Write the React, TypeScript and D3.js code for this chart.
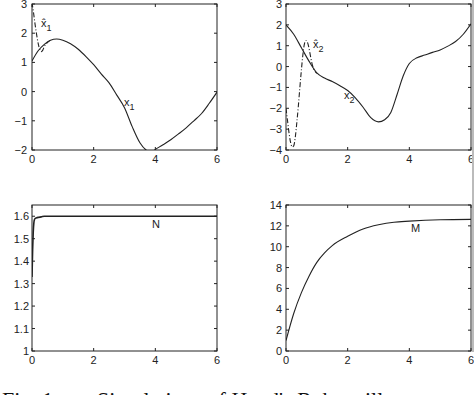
import React from 'react';
import * as d3 from 'd3';

// top-left: x1 and its estimate
const t1 = [0, 0.2, 0.4, 0.6, 0.8, 1.0, 1.25, 1.5, 1.75, 2.0, 2.25, 2.5, 2.75, 3.0, 3.25, 3.5, 3.7, 3.85, 4.0, 4.25, 4.5, 4.75, 5.0, 5.25, 5.5, 5.75, 6.0];
const x1 = [1.05, 1.4, 1.62, 1.76, 1.8, 1.76, 1.64, 1.45, 1.2, 0.92, 0.6, 0.3, -0.12, -0.55, -1.2, -1.75, -2.0, -2.08, -1.98, -1.82, -1.65, -1.45, -1.24, -1.0, -0.75, -0.4, -0.02];
const tHat1 = [0, 0.05, 0.1, 0.15, 0.2, 0.25, 0.3, 0.35, 0.4, 0.5, 0.6];
const xHat1 = [3.05, 2.7, 2.3, 1.95, 1.65, 1.45, 1.37, 1.42, 1.55, 1.68, 1.76];

// top-right: x2 and its estimate
const t2 = [0, 0.25, 0.5, 0.75, 1.0, 1.25, 1.5, 1.75, 2.0, 2.25, 2.5, 2.75, 3.0, 3.2, 3.4, 3.6, 3.8, 4.0, 4.25, 4.5, 4.75, 5.0, 5.25, 5.5, 5.75, 6.0];
const x2 = [2.0, 1.55, 0.9, 0.25, -0.3, -0.55, -0.72, -0.92, -1.15, -1.5, -1.95, -2.45, -2.65, -2.55, -2.2, -1.35, -0.45, 0.15, 0.42, 0.55, 0.68, 0.8, 0.98, 1.2, 1.55, 2.05];
const tHat2 = [0, 0.05, 0.1, 0.15, 0.2, 0.25, 0.3, 0.35, 0.4, 0.45, 0.5, 0.55, 0.6, 0.65, 0.7, 0.75, 0.8, 0.85, 0.9, 0.95, 1.0];
const xHat2 = [-2.0, -2.6, -3.2, -3.65, -3.85, -3.8, -3.4, -2.7, -1.9, -1.0, -0.15, 0.6, 1.1, 1.25, 1.15, 0.85, 0.45, 0.1, -0.12, -0.25, -0.33];

// bottom-left: N
const tN = [0, 0.02, 0.04, 0.06, 0.08, 0.1, 0.15, 0.2, 0.3, 0.4, 0.6, 1, 2, 3, 4, 5, 6];
const nVals = [1.33, 1.45, 1.53, 1.57, 1.585, 1.59, 1.593, 1.595, 1.597, 1.6, 1.6, 1.6, 1.6, 1.6, 1.6, 1.6, 1.6];

// bottom-right: M
const tM = [0, 0.25, 0.5, 0.75, 1, 1.25, 1.5, 2, 2.5, 3, 3.5, 4, 5, 6];
const mVals = [1.0, 3.6, 5.6, 7.2, 8.5, 9.4, 10.1, 11.0, 11.7, 12.1, 12.35, 12.45, 12.58, 12.62];

const xTicks = [0, 2, 4, 6];
const yTicks1 = [-2, -1, 0, 1, 2, 3];
const yTicks2 = [-4, -3, -2, -1, 0, 1, 2, 3];
const yTicksN = [1, 1.1, 1.2, 1.3, 1.4, 1.5, 1.6];
const yTicksM = [0, 2, 4, 6, 8, 10, 12, 14];

const INK = '#222';
const FONT = 'Liberation Sans, Arial, sans-serif';

type Series = { t: number[]; v: number[]; dash?: string; width?: number };
type Label = { x: number; y: number; text: string; hat?: boolean; sub?: string };

interface PanelProps {
  id: string;
  left: number; right: number; top: number; bottom: number;
  yDomain: [number, number];
  yTicks: number[];
  yFmt: (d: number) => string;
  yGap: number;
  series: Series[];
  labels: Label[];
}

const Panel: React.FC<PanelProps> = ({ id, left, right, top, bottom, yDomain, yTicks, yFmt, yGap, series, labels }) => {
  const x = d3.scaleLinear().domain([0, 6]).range([left, right]);
  const y = d3.scaleLinear().domain(yDomain).range([bottom, top]);
  const line = d3.line<[number, number]>()
    .x(d => x(d[0]))
    .y(d => y(d[1]))
    .curve(d3.curveMonotoneX);
  const tl = 3;
  return (
    <g>
      <clipPath id={id}>
        <rect x={left} y={top} width={right - left} height={bottom - top} />
      </clipPath>
      <g clipPath={`url(#${id})`}>
        {series.map((s, i) => (
          <path key={i} d={line(s.t.map((t, k) => [t, s.v[k]] as [number, number])) || ''}
            fill="none" stroke={INK} strokeWidth={s.width ?? 1.1} strokeDasharray={s.dash} />
        ))}
      </g>
      <rect x={left} y={top} width={right - left} height={bottom - top} fill="none" stroke={INK} strokeWidth={1} />
      {xTicks.map(t => (
        <g key={'x' + t}>
          <line x1={x(t)} x2={x(t)} y1={bottom} y2={bottom - tl} stroke={INK} />
          <line x1={x(t)} x2={x(t)} y1={top} y2={top + tl} stroke={INK} />
          <text x={x(t)} y={bottom + 13} textAnchor="middle" fontSize={11} fontFamily={FONT} fill={INK}>{t}</text>
        </g>
      ))}
      {yTicks.map(t => (
        <g key={'y' + t}>
          <line x1={left} x2={left + tl} y1={y(t)} y2={y(t)} stroke={INK} />
          <line x1={right} x2={right - tl} y1={y(t)} y2={y(t)} stroke={INK} />
          <text x={left - yGap} y={y(t) + 4} textAnchor="end" fontSize={11} fontFamily={FONT} fill={INK}>{yFmt(t)}</text>
        </g>
      ))}
      {labels.map((l, i) => (
        <text key={i} x={l.x} y={l.y} fontSize={11} fontFamily={FONT} fill={INK}>
          {l.hat ? 'x\u0302' : l.text}
          {l.sub && <tspan dy={4} fontSize={9}>{l.sub}</tspan>}
        </text>
      ))}
    </g>
  );
};

const minus = (d: number) => (d < 0 ? '\u2212' + Math.abs(d) : String(d));

export default function App() {
  return (
    <svg width={474} height={395} style={{ position: 'absolute', left: 0, top: 0, background: '#fff' }}>
      <rect width={474} height={395} fill="#fff" />
      <Panel id="c1" left={32} right={217} top={4} bottom={150} yDomain={[-2, 3]} yTicks={yTicks1} yFmt={minus} yGap={5}
        series={[{ t: t1, v: x1 }, { t: tHat1, v: xHat1, dash: '5,2,1,2' }]}
        labels={[{ x: 41, y: 27, text: 'x', hat: true, sub: '1' }, { x: 124, y: 106, text: 'x', sub: '1' }]} />
      <Panel id="c2" left={286} right={471} top={4} bottom={150} yDomain={[-4, 3]} yTicks={yTicks2} yFmt={minus} yGap={4}
        series={[{ t: t2, v: x2 }, { t: tHat2, v: xHat2, dash: '5,2,1,2' }]}
        labels={[{ x: 313, y: 48, text: 'x', hat: true, sub: '2' }, { x: 344, y: 99, text: 'x', sub: '2' }]} />
      <Panel id="c3" left={32} right={217} top={205} bottom={351} yDomain={[1, 1.65]} yTicks={yTicksN} yFmt={d => d3.format('')(+d.toFixed(1))} yGap={3}
        series={[{ t: tN, v: nVals, width: 1.6 }]}
        labels={[{ x: 152, y: 228, text: 'N' }]} />
      <Panel id="c4" left={286} right={471} top={205} bottom={351} yDomain={[0, 14]} yTicks={yTicksM} yFmt={String} yGap={4}
        series={[{ t: tM, v: mVals }]}
        labels={[{ x: 411, y: 232, text: 'M' }]} />
      <rect x={472} y={0} width={2} height={352} fill="#bbb" />
      <text x={2} y={407} fontSize={22} fontFamily="Liberation Serif, serif" fill="#111">
        Fig. 1.
      </text>
      <text x={97} y={407} fontSize={22} fontFamily="Liberation Serif, serif" fill="#111">
        Simulations of Hand's Robust illustr
      </text>
    </svg>
  );
}
